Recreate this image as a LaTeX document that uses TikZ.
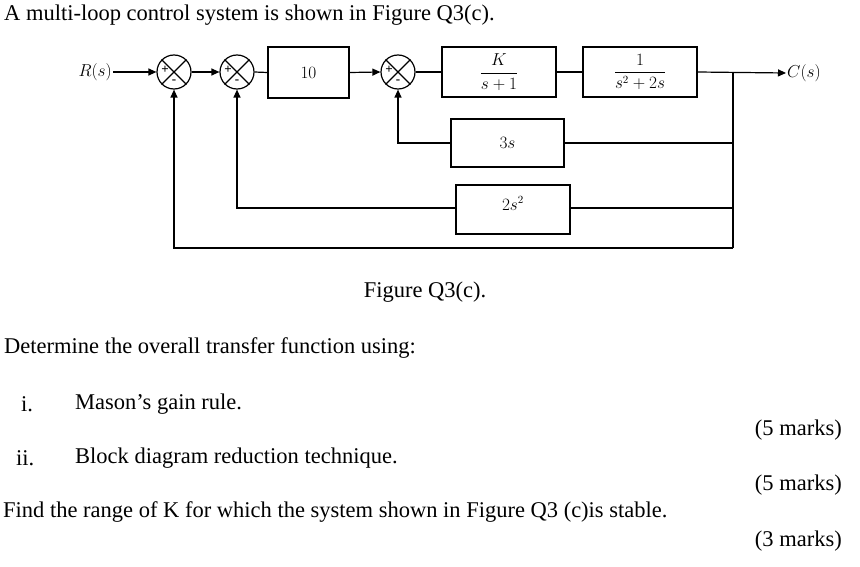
\documentclass[tikz,border=0pt]{standalone}
\usepackage{amsmath}
\usepackage{fontspec}
\setmainfont{Liberation Serif}
\usetikzlibrary{arrows.meta}
\begin{document}
\begin{tikzpicture}[x=1pt,y=-1pt,
  blk/.style={draw,line width=1.2pt,minimum width=#1,inner sep=0pt},
  sum/.style={draw,circle,line width=1.2pt,minimum size=34pt,inner sep=0pt},
  ln/.style={line width=1.2pt},
  ar/.style={ln,-{Triangle[length=8pt,width=7pt]}},
  txt/.style={font=\fontsize{22.5}{26}\selectfont,anchor=west,inner sep=0pt},
  lab/.style={font=\fontsize{16}{18}\selectfont}]
\useasboundingbox (0,0) rectangle (860,567);
\node[txt] (t1) at (4,15) {A multi-loop control system is shown in Figure Q3(c).};
% summers
\foreach \n/\x in {s1/174,s2/237,s3/398}{
  \node[sum] (\n) at (\x,72) {};
  \draw[ln] (\n.north west) -- (\n.south east) (\n.north east) -- (\n.south west);
  \node[font=\fontsize{13}{13}\selectfont\bfseries,inner sep=0pt] at (\x-9,70) {+};
  \node[font=\fontsize{13}{13}\selectfont\bfseries,inner sep=0pt] at (\x,82) {-};
}
\node[blk=81pt,minimum height=51pt,lab] (b10) at (308.5,72.5) {$10$};
\node[blk=114pt,minimum height=50pt,lab] (bk) at (499,72) {$\dfrac{K}{s+1}$};
\node[blk=114pt,minimum height=50pt,lab] (bp) at (640,72) {$\dfrac{1}{s^2+2s}$};
\node[blk=113pt,minimum height=48pt,lab] (b3) at (507.5,143) {$3s$};
\node[blk=114pt,minimum height=49pt,lab] (b2) at (513,209.5) {\raisebox{12pt}{$2s^2$}};
\node[lab,anchor=east,inner sep=1pt] (R) at (113,72) {$R(s)$};
\node[lab,anchor=west,inner sep=1pt] (C) at (786,73) {$C(s)$};
\coordinate (br) at (733,72);
\coordinate (bb) at (733,248);
\draw[ar] (R.east) -- (s1.west);
\draw[ar] (s1.east) -- (s2.west);
\draw[ln] (s2.east) -- (b10.west);
\draw[ar] (b10.east) -- (s3.west);
\draw[ln] (s3.east) -- (bk.west);
\draw[ln] (bk.east) -- (bp.west);
\draw[ar] (bp.east) -- (C.west);
\draw[ln] (br) -- (bb);
\draw[ln] (733,143) -- (b3.east);
\draw[ar] (b3.west) -| (s3.south);
\draw[ln] (733,208) -- (570,208);
\draw[ar] (456,208) -| (s2.south);
\draw[ar] (bb) -| (s1.south);
\node[txt,anchor=center] (fc) at (425,292) {Figure Q3(c).};
\node[txt] (t2) at (4,348) {Determine the overall transfer function using:};
\node[txt] (i1) at (21,404) {i.};
\node[txt] (i1t) at (75,404) {Mason’s gain rule.};
\node[txt,anchor=east] (m1) at (842,430) {(5 marks)};
\node[txt] (i2) at (16,458) {ii.};
\node[txt] (i2t) at (75,458) {Block diagram reduction technique.};
\node[txt,anchor=east] (m2) at (842,485) {(5 marks)};
\node[txt] (t3) at (3,512) {Find the range of K for which the system shown in Figure Q3 (c)is stable.};
\node[txt,anchor=east] (m3) at (842,541) {(3 marks)};
\end{tikzpicture}
\end{document}
